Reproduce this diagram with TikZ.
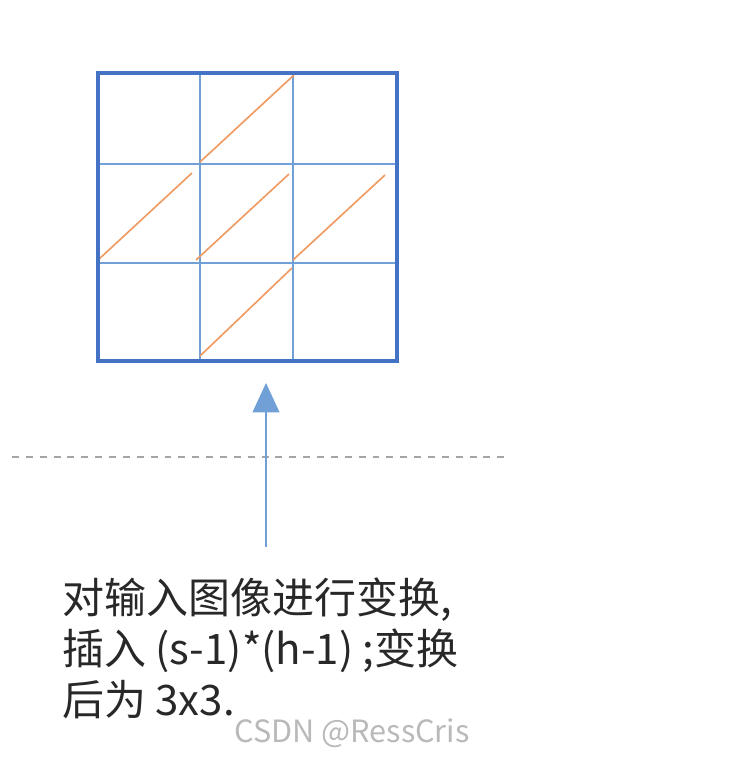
\documentclass[tikz,border=0pt]{standalone}
\usepackage{fontspec}
\newfontfamily\cjk{Noto Sans CJK SC}
\usetikzlibrary{arrows.meta,positioning}
\definecolor{frameblue}{RGB}{68,114,196}
\definecolor{gridblue}{RGB}{112,160,214}
\definecolor{diagorange}{RGB}{238,156,100}
\definecolor{dashgray}{RGB}{165,165,165}
\definecolor{markgray}{RGB}{185,185,185}
\definecolor{notegray}{RGB}{40,40,40}

\begin{document}
\begin{tikzpicture}[x=0.75pt,y=0.75pt,yscale=-1,xscale=1,
  gridline/.style={draw=gridblue,line width=1.2pt},
  diagline/.style={draw=diagorange,line width=1.25pt},
  framebox/.style={draw=frameblue,line width=2.3pt},
  upflow/.style={draw=gridblue,line width=1.5pt,-{Triangle[length=22pt,width=20pt]}},
  notetext/.style={font=\cjk\fontsize{31.5}{38}\selectfont,text=notegray,align=left,inner sep=0pt}]
\useasboundingbox (0,0) rectangle (756,782);

%Shape: Grid lines
\draw [gridline] (200,73) -- (200,361) ;
\draw [gridline] (293,73) -- (293,361) ;
\draw [gridline] (98,164) -- (397,164) ;
\draw [gridline] (98,263) -- (397,263) ;
%Shape: Diagonals
\draw [diagline] (200,162) -- (294,75) ;
\draw [diagline] (98,260) -- (192,173) ;
\draw [diagline] (196,260) -- (289,174) ;
\draw [diagline] (293,260) -- (385,175) ;
\draw [diagline] (200,356) -- (292,268) ;
%Shape: Rectangle
\draw [framebox] (98,73) -- (397,73) -- (397,361) -- (98,361) -- cycle ;

%Straight Lines
\draw [dashgray,line width=1pt,dash pattern=on 5.2pt off 5.2pt] (12,457) -- (507,457) ;

\coordinate (tail) at (266,547) ;
\coordinate (head) at (266,383) ;
% Connection
\draw [upflow] (tail) -- (head) ;

% Text Node
\node [notetext,anchor=north west] (note) at (62,578) {对输入图像进行变换,\\插入 (s-1)*(h-1) ;变换\\后为 3x3.};
% Text Node
\node [font=\cjk\fontsize{23}{27}\selectfont,text=markgray,inner sep=0pt] (mark) at (352,733) {CSDN @RessCris};

\end{tikzpicture}
\end{document}
